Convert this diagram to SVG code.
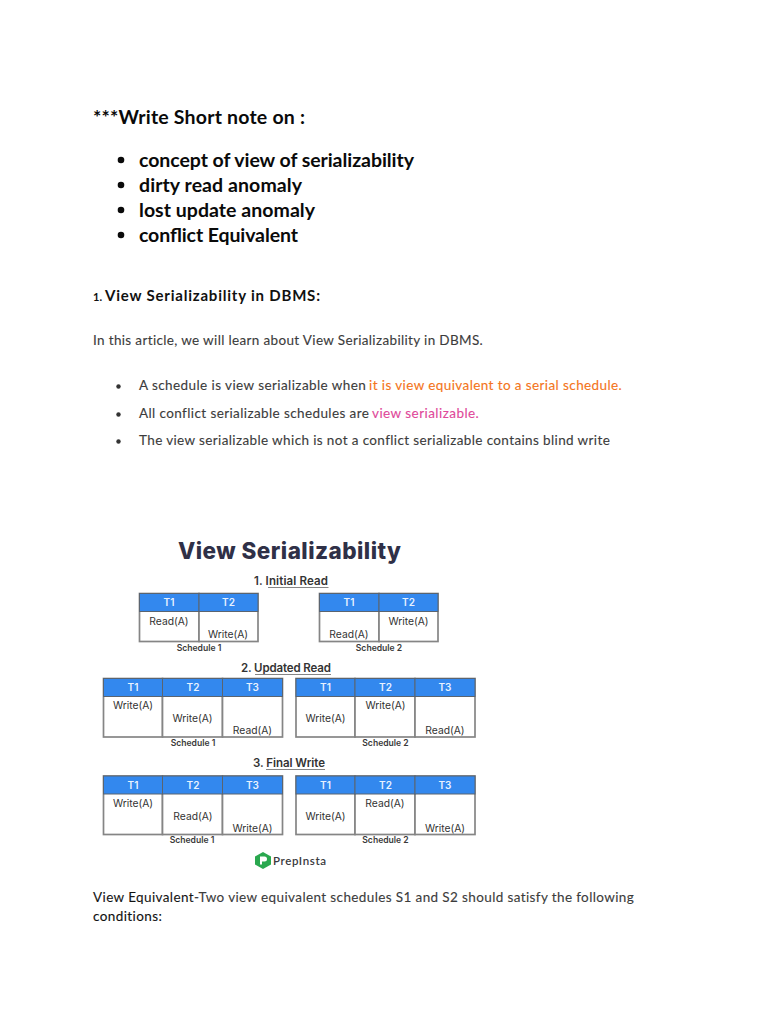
<svg xmlns="http://www.w3.org/2000/svg" width="768" height="1024" viewBox="0 0 768 1024">
<style>
text{font-family:"Lato","Liberation Sans",sans-serif}
.h{font-weight:700;font-size:19.5px;fill:#0a0a0a}
.b{font-size:13.5px;fill:#3c3c3c;letter-spacing:.2px;stroke:currentColor;stroke-width:.12px}
.s{font-family:"Inter","Liberation Sans",sans-serif;fill:#2f3047}
.th{font-family:"Inter","Liberation Sans",sans-serif;font-size:10px;font-weight:600;fill:#e8f2ff;text-anchor:middle}
.c{font-family:"Inter","Liberation Sans",sans-serif;font-size:10.3px;fill:#333;text-anchor:middle}
.sc{font-family:"Inter","Liberation Sans",sans-serif;font-size:8.6px;font-weight:600;fill:#3a3a3a;text-anchor:middle}
.sub{font-family:"Inter","Liberation Sans",sans-serif;font-size:11.5px;font-weight:600;fill:#333}
.cell{fill:#fff;stroke:#858585;stroke-width:1.7}
.head{fill:#3388ee;stroke:#5a6470;stroke-width:1}
.u{stroke:#777;stroke-width:.9}
</style>
<rect width="768" height="1024" fill="#fff"/>
<g id="heading">
<text class="h" x="93" y="124" textLength="212">***Write Short note on :</text>
<circle cx="121" cy="160" r="3.3" fill="#0a0a0a"/><text class="h" x="139" y="167" textLength="275">concept of view of serializability</text>
<circle cx="121" cy="185" r="3.3" fill="#0a0a0a"/><text class="h" x="139" y="192" textLength="163">dirty read anomaly</text>
<circle cx="121" cy="210" r="3.3" fill="#0a0a0a"/><text class="h" x="139" y="217" textLength="176">lost update anomaly</text>
<circle cx="121" cy="235" r="3.3" fill="#0a0a0a"/><text class="h" x="139" y="242" textLength="159">conflict Equivalent</text>
</g>
<g id="section">
<text x="93" y="301" font-size="11" font-weight="700" fill="#111">1.</text>
<text x="105" y="301" font-size="15" font-weight="700" fill="#111" textLength="215">View Serializability in DBMS:</text>
<text class="b" x="93" y="345" textLength="390" color="#3c3c3c">In this article, we will learn about View Serializability in DBMS.</text>
<circle cx="118.500" cy="386.500" r="2.200" fill="#333"/>
<text class="b" x="139" y="390" textLength="227" color="#3c3c3c">A schedule is view serializable when</text>
<text class="b" x="369" y="390" textLength="253" color="#f47420" style="fill:#f47420">it is view equivalent to a serial schedule.</text>
<circle cx="118.500" cy="414.500" r="2.200" fill="#333"/>
<text class="b" x="139" y="418" textLength="230" color="#3c3c3c">All conflict serializable schedules are</text>
<text class="b" x="372" y="418" textLength="107" color="#e0489a" style="fill:#e0489a">view serializable.</text>
<circle cx="118.500" cy="441.500" r="2.200" fill="#333"/>
<text class="b" x="139" y="445" textLength="471" color="#3c3c3c">The view serializable which is not a conflict serializable contains blind write</text>
</g>
<g id="figure">
<text class="s" x="178" y="558.500" font-size="22.500" font-weight="800" textLength="223">View Serializability</text>
<text class="sub" x="254" y="585" textLength="74">1. Initial Read</text><line class="u" x1="268" y1="587.500" x2="328.500" y2="587.500"/>
<text class="sub" x="241" y="672" textLength="90">2. Updated Read</text><line class="u" x1="255" y1="674.500" x2="331" y2="674.500"/>
<text class="sub" x="253" y="767" textLength="72">3. Final Write</text><line class="u" x1="266" y1="769.500" x2="325" y2="769.500"/>
</g>
<g id="table-1-1">
<rect class="cell" x="139.500" y="593.500" width="59.500" height="48"/><rect class="cell" x="199" y="593.500" width="59" height="48"/>
<rect class="head" x="139.500" y="593.500" width="59.500" height="18"/><rect class="head" x="199" y="593.500" width="59" height="18"/>
<text class="th" x="169" y="606">T1</text><text class="th" x="228.500" y="606">T2</text>
<text class="c" x="169" y="625">Read(A)</text><text class="c" x="228" y="638">Write(A)</text>
<text class="sc" x="199" y="650.500">Schedule 1</text>
</g>
<g id="table-1-2">
<rect class="cell" x="319.500" y="593.500" width="59.500" height="48"/><rect class="cell" x="379" y="593.500" width="59" height="48"/>
<rect class="head" x="319.500" y="593.500" width="59.500" height="18"/><rect class="head" x="379" y="593.500" width="59" height="18"/>
<text class="th" x="349" y="606">T1</text><text class="th" x="408.500" y="606">T2</text>
<text class="c" x="349" y="638">Read(A)</text><text class="c" x="408.500" y="625">Write(A)</text>
<text class="sc" x="379" y="650.500">Schedule 2</text>
</g>
<g id="table-2-1">
<rect class="cell" x="103.500" y="678.500" width="59" height="58.500"/><rect class="cell" x="162.500" y="678.500" width="60" height="58.500"/><rect class="cell" x="222.500" y="678.500" width="60" height="58.500"/>
<rect class="head" x="103.500" y="678.500" width="59" height="18"/><rect class="head" x="162.500" y="678.500" width="60" height="18"/><rect class="head" x="222.500" y="678.500" width="60" height="18"/>
<text class="th" x="133" y="691">T1</text><text class="th" x="193" y="691">T2</text><text class="th" x="252.500" y="691">T3</text>
<text class="c" x="133" y="709">Write(A)</text><text class="c" x="192.500" y="722">Write(A)</text><text class="c" x="252.500" y="734">Read(A)</text>
<text class="sc" x="193" y="745.500">Schedule 1</text>
</g>
<g id="table-2-2">
<rect class="cell" x="296" y="678.500" width="59" height="58.500"/><rect class="cell" x="355" y="678.500" width="60" height="58.500"/><rect class="cell" x="415" y="678.500" width="60" height="58.500"/>
<rect class="head" x="296" y="678.500" width="59" height="18"/><rect class="head" x="355" y="678.500" width="60" height="18"/><rect class="head" x="415" y="678.500" width="60" height="18"/>
<text class="th" x="325.500" y="691">T1</text><text class="th" x="385.500" y="691">T2</text><text class="th" x="445" y="691">T3</text>
<text class="c" x="325.500" y="722">Write(A)</text><text class="c" x="385.500" y="709">Write(A)</text><text class="c" x="445" y="734">Read(A)</text>
<text class="sc" x="385.500" y="745.500">Schedule 2</text>
</g>
<g id="table-3-1">
<rect class="cell" x="103.500" y="776" width="59" height="58.500"/><rect class="cell" x="162.500" y="776" width="60" height="58.500"/><rect class="cell" x="222.500" y="776" width="60" height="58.500"/>
<rect class="head" x="103.500" y="776" width="59" height="18"/><rect class="head" x="162.500" y="776" width="60" height="18"/><rect class="head" x="222.500" y="776" width="60" height="18"/>
<text class="th" x="133" y="788.500">T1</text><text class="th" x="193" y="788.500">T2</text><text class="th" x="252.500" y="788.500">T3</text>
<text class="c" x="133" y="807">Write(A)</text><text class="c" x="193" y="819.500">Read(A)</text><text class="c" x="252.500" y="831.500">Write(A)</text>
<text class="sc" x="192" y="843">Schedule 1</text>
</g>
<g id="table-3-2">
<rect class="cell" x="296" y="776" width="59" height="58.500"/><rect class="cell" x="355" y="776" width="60" height="58.500"/><rect class="cell" x="415" y="776" width="60" height="58.500"/>
<rect class="head" x="296" y="776" width="59" height="18"/><rect class="head" x="355" y="776" width="60" height="18"/><rect class="head" x="415" y="776" width="60" height="18"/>
<text class="th" x="325.500" y="788.500">T1</text><text class="th" x="385.500" y="788.500">T2</text><text class="th" x="445" y="788.500">T3</text>
<text class="c" x="325.500" y="819.500">Write(A)</text><text class="c" x="385" y="807">Read(A)</text><text class="c" x="445" y="831.500">Write(A)</text>
<text class="sc" x="385.500" y="843">Schedule 2</text>
</g>
<g id="prepinsta">
<polygon points="263,852 271,856.500 271,864.500 263,869 255,864.500 255,856.500" fill="#2aa84f"/>
<path d="M260 864.500v-8h4.500a2.500 2.500 0 0 1 0 5h-2.500v3z" fill="#fff"/>
<text x="273" y="864.500" font-family="Inter,Liberation Sans,sans-serif" font-size="11.500" font-weight="600" fill="#3a3a40" textLength="53">PrepInsta</text>
</g>
<g id="footer">
<text class="b" x="93" y="902" textLength="541" color="#3c3c3c"><tspan style="fill:#111">View Equivalent</tspan>-Two view equivalent schedules S1 and S2 should satisfy the following</text>
<text class="b" x="93" y="921" textLength="69" color="#111" style="fill:#111">conditions:</text>
</g>
</svg>
